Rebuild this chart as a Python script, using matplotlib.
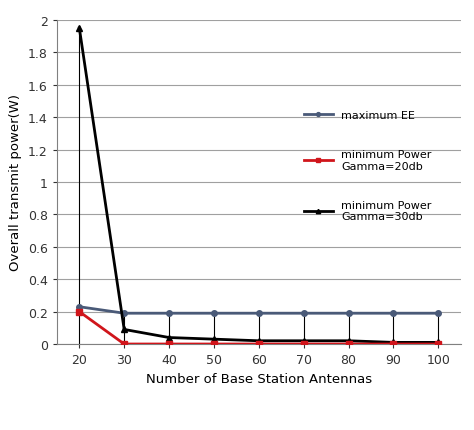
import matplotlib
matplotlib.use("Agg")
import matplotlib.pyplot as plt
import numpy as np

antennas = [20, 30, 40, 50, 60, 70, 80, 90, 100]
max_ee = [0.23, 0.19, 0.19, 0.19, 0.19, 0.19, 0.19, 0.19, 0.19]
min_p20 = [0.20, 0.0, 0.0, 0.0, 0.0, 0.0, 0.0, 0.0, 0.0]
min_p30 = [1.95, 0.09, 0.04, 0.03, 0.02, 0.02, 0.02, 0.01, 0.01]

fig = plt.figure(figsize=(4.74, 4.31), dpi=100)
ax = fig.add_axes([0.120, 0.1995, 0.852, 0.752])
x = np.arange(len(antennas))

for i in x:
    top = max(max_ee[i], min_p20[i], min_p30[i])
    ax.plot([i, i], [0, top], color='black', lw=0.8, zorder=1)

ax.plot(x, max_ee, color='#4A5A78', lw=2, marker='o', ms=4, label='maximum EE', zorder=3)
ax.plot(x, min_p20, color='#D0151B', lw=2, marker='s', ms=4.5, label='minimum Power\nGamma=20db', zorder=4)
ax.plot(x, min_p30, color='black', lw=2, marker='^', ms=4.5, label='minimum Power\nGamma=30db', zorder=3)

ax.set_xlim(-0.5, len(x) - 0.5)
ax.set_ylim(0, 2)
ax.set_yticks(np.arange(0, 2.01, 0.2))
ax.set_yticklabels(['0'] + [f'{v:g}' for v in np.arange(0.2, 2.01, 0.2).round(1)])
ax.set_xticks(x)
ax.set_xticklabels([str(a) for a in antennas])
ax.grid(axis='y', color='#A0A0A0', lw=0.8)
ax.set_axisbelow(True)
for s in ['top', 'right']:
    ax.spines[s].set_visible(False)
ax.spines['left'].set_color('#808080')
ax.spines['bottom'].set_color('#808080')
ax.tick_params(labelsize=9, length=3, colors='#333333')
ax.set_xlabel('Number of Base Station Antennas', fontsize=9.5)
ax.set_ylabel('Overall transmit power(W)', fontsize=9.5)

ax.legend(loc='upper left', bbox_to_anchor=(0.6, 0.735), frameon=False, fontsize=8,
          handlelength=2.6, labelspacing=2.6, borderaxespad=0, markerscale=0.7)

fig.savefig('out.png', dpi=100)
